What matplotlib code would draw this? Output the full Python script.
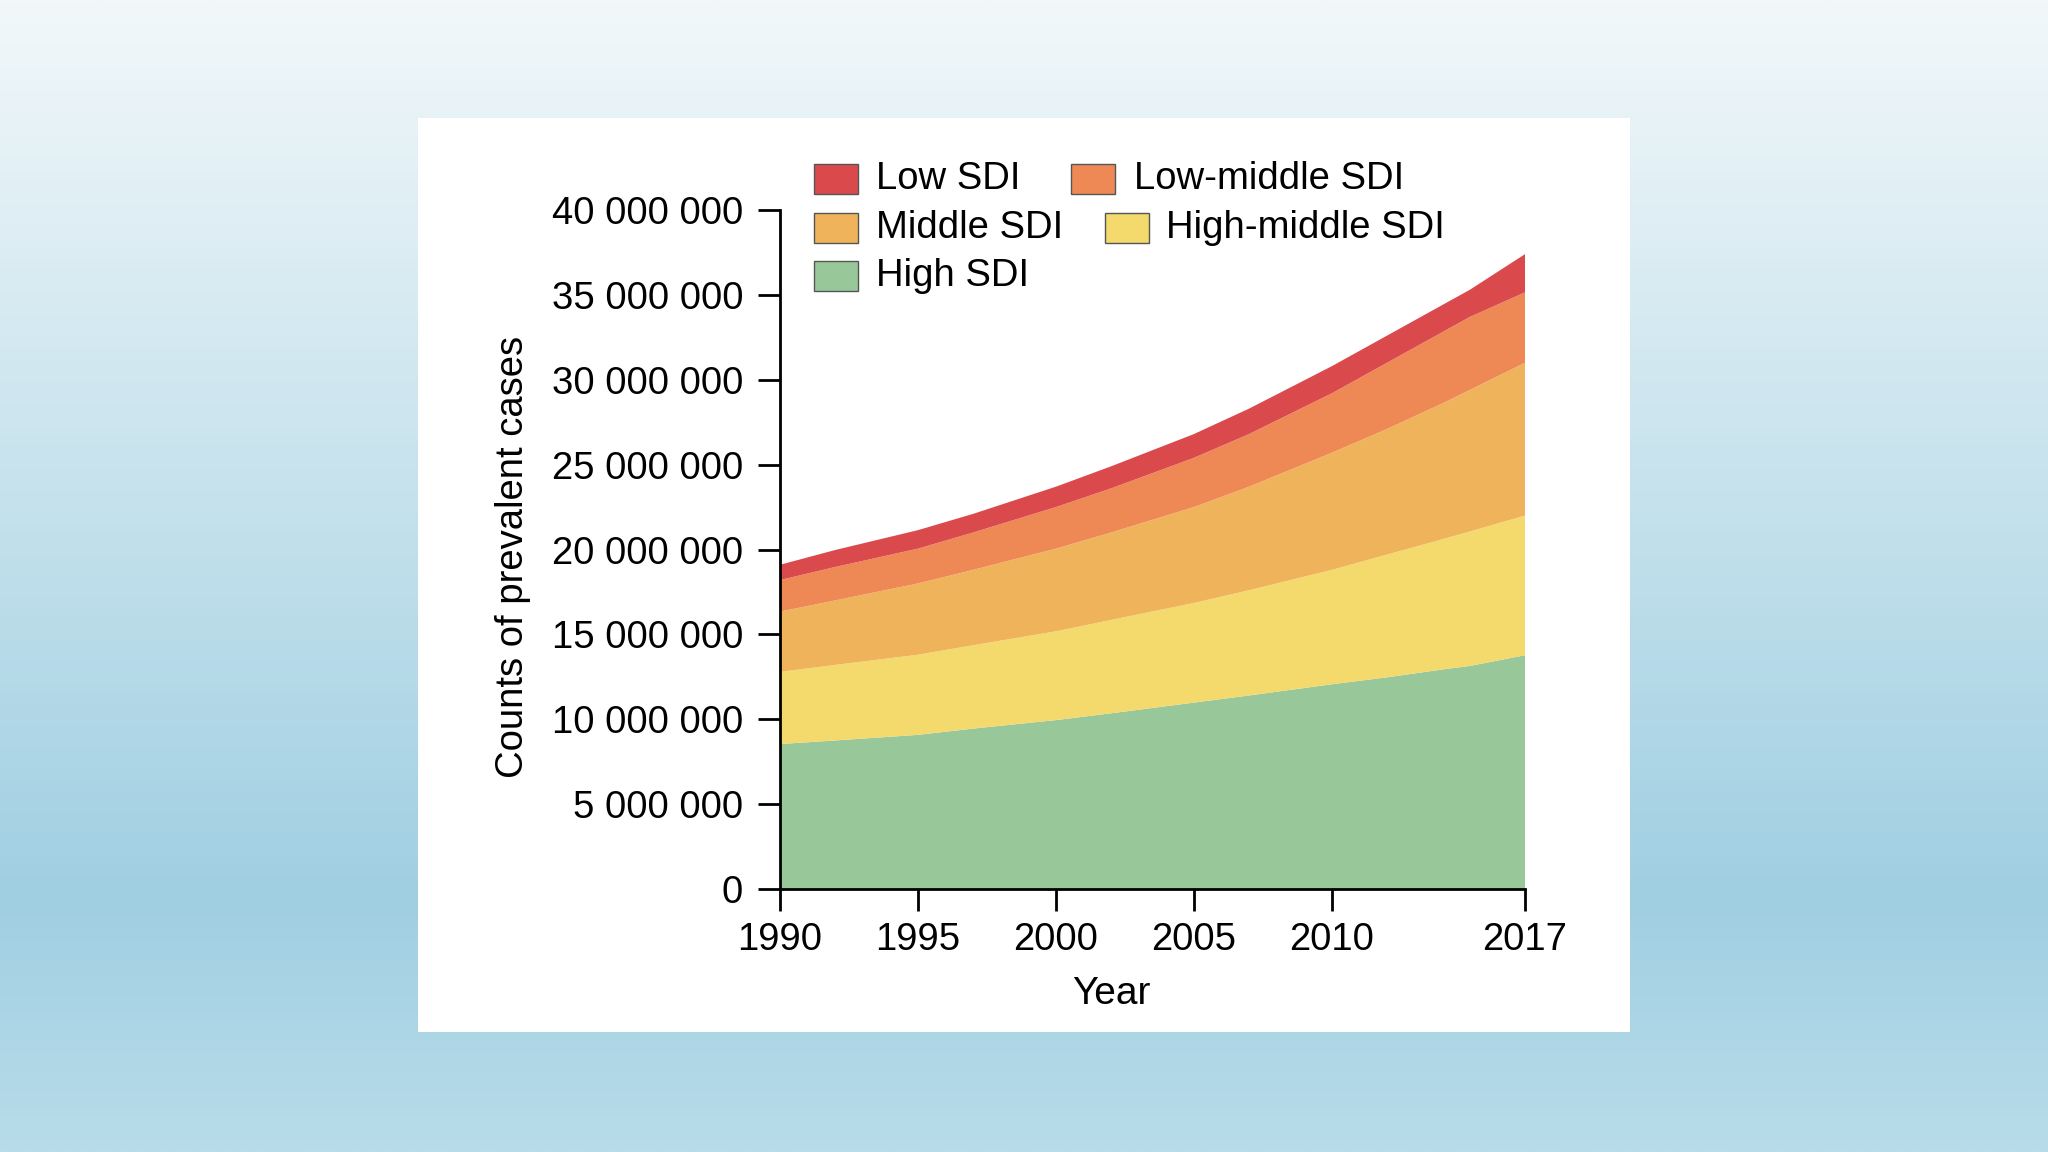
import numpy as np
import matplotlib
matplotlib.use("Agg")
import matplotlib.pyplot as plt
from matplotlib.patches import Rectangle
from matplotlib.colors import LinearSegmentedColormap

# ---- data (counts of prevalent cases) ----
years = [1990, 1992, 1995, 1997, 2000, 2002, 2005, 2007, 2010, 2012, 2014, 2015, 2017]
high_sdi        = [8.54e6, 8.75e6, 9.08e6, 9.45e6, 9.95e6, 10.35e6, 10.98e6, 11.40e6, 12.06e6, 12.47e6, 12.93e6, 13.14e6, 13.77e6]
high_middle_sdi = [4.25e6, 4.45e6, 4.72e6, 4.91e6, 5.23e6, 5.50e6, 5.87e6, 6.20e6, 6.74e6, 7.23e6, 7.67e6, 7.92e6, 8.23e6]
middle_sdi      = [3.55e6, 3.80e6, 4.20e6, 4.44e6, 4.87e6, 5.15e6, 5.65e6, 6.10e6, 6.90e6, 7.40e6, 8.00e6, 8.34e6, 9.00e6]
low_middle_sdi  = [1.86e6, 1.97e6, 2.05e6, 2.20e6, 2.45e6, 2.60e6, 2.90e6, 3.10e6, 3.50e6, 3.90e6, 4.20e6, 4.30e6, 4.15e6]
low_sdi         = [0.90e6, 1.00e6, 1.09e6, 1.10e6, 1.20e6, 1.30e6, 1.40e6, 1.50e6, 1.60e6, 1.60e6, 1.60e6, 1.60e6, 2.25e6]

series_labels = ["High SDI", "High-middle SDI", "Middle SDI", "Low-middle SDI", "Low SDI"]
colors = ["#98C79A", "#F4D96D", "#EFB45B", "#EE8956", "#DA4A4D"]
x_ticks = [1990, 1995, 2000, 2005, 2010, 2017]
y_ticks = [0, 5e6, 10e6, 15e6, 20e6, 25e6, 30e6, 35e6, 40e6]
y_ticklabels = ["0", "5 000 000", "10 000 000", "15 000 000", "20 000 000",
                "25 000 000", "30 000 000", "35 000 000", "40 000 000"]

plt.rcParams['font.family'] = ['Liberation Sans', 'DejaVu Sans']
W, H = 2048, 1152
fig = plt.figure(figsize=(W / 100, H / 100), dpi=100)

# ---- background gradient ----
bg = fig.add_axes([0, 0, 1, 1], zorder=-10)
cmap = LinearSegmentedColormap.from_list("bg", [
    (0.0, (242/255, 248/255, 250/255)),
    (0.35, (206/255, 230/255, 239/255)),
    (0.78, (160/255, 207/255, 226/255)),
    (1.0, (184/255, 220/255, 233/255)),
])
grad = np.linspace(0, 1, 512).reshape(-1, 1)
bg.imshow(grad, aspect='auto', cmap=cmap, extent=[0, 1, 0, 1], origin='upper')
bg.set_axis_off()

# white panel
fig.patches.append(Rectangle((418 / W, 1 - 1032 / H), (1630 - 418) / W, (1032 - 118) / H,
                             transform=fig.transFigure, facecolor='white', edgecolor='none', zorder=-5))

# ---- main axes ----
ax = fig.add_axes([780 / W, 1 - 889 / H, (1525 - 780) / W, (889 - 210) / H])
ax.patch.set_alpha(0)
ax.stackplot(years, high_sdi, high_middle_sdi, middle_sdi, low_middle_sdi, low_sdi,
             colors=colors, linewidth=0, edgecolor='none', antialiased=True)
ax.set_xlim(1990, 2017)
ax.set_ylim(0, 40e6)
for s in ["top", "right"]:
    ax.spines[s].set_visible(False)
for s in ["left", "bottom"]:
    ax.spines[s].set_linewidth(2)
ax.set_xticks(x_ticks)
ax.set_xticklabels([str(t) for t in x_ticks])
ax.set_yticks(y_ticks)
ax.set_yticklabels(y_ticklabels)
ax.tick_params(axis='both', direction='out', length=15.5, width=2, labelsize=27.5)
ax.tick_params(axis='y', pad=11)
ax.tick_params(axis='x', pad=8)

fig.text(513 / W, 1 - 557 / H, "Counts of prevalent cases", rotation=90,
         ha='center', va='center', fontsize=27.5)
fig.text(1111 / W, 1 - 994 / H, "Year", ha='center', va='center', fontsize=28)

# ---- legend (flowing layout) ----
leg_items = [
    [("Low SDI", colors[4], 814, 876), ("Low-middle SDI", colors[3], 1071, 1134)],
    [("Middle SDI", colors[2], 814, 876), ("High-middle SDI", colors[1], 1105, 1166)],
    [("High SDI", colors[0], 814, 876)],
]
row_y = [179, 228, 276]
for row, yc in zip(leg_items, row_y):
    for label, col, px, tx in row:
        fig.patches.append(Rectangle((px / W, 1 - (yc + 14.5) / H), 44 / W, 29 / H,
                                     transform=fig.transFigure, facecolor=col,
                                     edgecolor='#555555', linewidth=1))
        fig.text(tx / W, 1 - yc / H, label, ha='left', va='center', fontsize=27.5)

fig.savefig("out.png", dpi=100)
